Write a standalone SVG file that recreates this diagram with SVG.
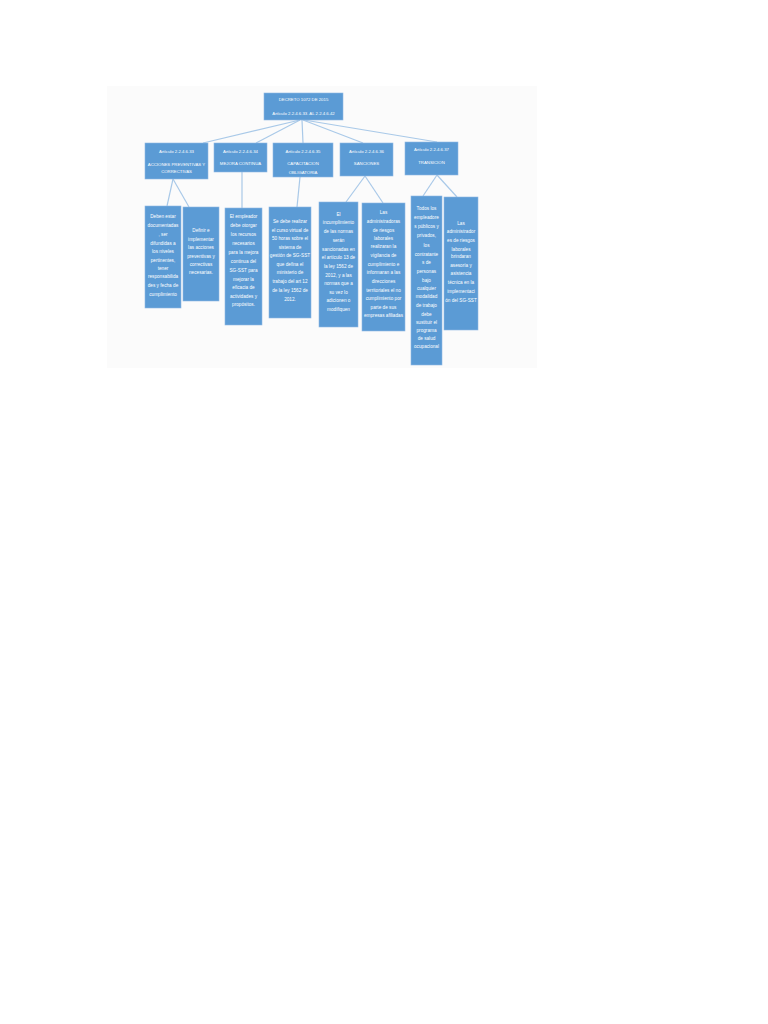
<svg xmlns="http://www.w3.org/2000/svg" width="768" height="1024" viewBox="0 0 768 1024">
<style>
.box{fill:#5b9bd5;stroke:#8fb8e3;stroke-width:0.6}
.t{fill:#ffffff;font-family:"Liberation Sans",Arial,sans-serif;text-anchor:middle}
.h{font-size:4.3px}
.l{font-size:4.7px}
.c{stroke:#a9c9e8;stroke-width:1.2;fill:none}
</style>
<rect x="0" y="0" width="768" height="1024" fill="#ffffff"/>
<rect x="107" y="86" width="430" height="282" fill="#fbfbfb"/>
<g id="connectors">
<line class="c" x1="300" y1="120" x2="203" y2="143"/>
<line class="c" x1="300" y1="120" x2="256" y2="143"/>
<line class="c" x1="302" y1="120" x2="303" y2="143"/>
<line class="c" x1="303" y1="120" x2="363" y2="143"/>
<line class="c" x1="304" y1="120" x2="437" y2="142"/>
<line class="c" x1="173" y1="179" x2="167" y2="206"/>
<line class="c" x1="173" y1="179" x2="189" y2="207"/>
<line class="c" x1="242" y1="172" x2="242" y2="208"/>
<line class="c" x1="300" y1="177" x2="297" y2="207"/>
<line class="c" x1="365" y1="176" x2="346" y2="202"/>
<line class="c" x1="365" y1="176" x2="383" y2="203"/>
<line class="c" x1="437" y1="175" x2="423" y2="196"/>
<line class="c" x1="437" y1="175" x2="457" y2="197"/>
</g>
<g id="root">
<rect class="box" x="264" y="93" width="79" height="27"/>
<text class="t h" x="303.5" y="100.8">DECRETO 1072 DE 2015</text>
<text class="t h" x="303.5" y="114.5">Artículo 2.2.4.6.33. AL 2.2.4.6.42</text>
</g>
<g id="n1">
<rect class="box" x="145" y="143" width="63" height="36"/>
<text class="t h" x="176.5" y="152.5">Artículo 2.2.4.6.33</text>
<text class="t h" x="176.5" y="165.5">ACCIONES PREVENTIVAS Y</text>
<text class="t h" x="176.5" y="172.5">CORRECTIVAS</text>
</g>
<g id="n2">
<rect class="box" x="214" y="143" width="53" height="29"/>
<text class="t h" x="240.5" y="152.5">Artículo 2.2.4.6.34</text>
<text class="t h" x="240.5" y="164.5">MEJORA CONTINUA</text>
</g>
<g id="n3">
<rect class="box" x="273" y="143" width="60" height="34"/>
<text class="t h" x="303" y="152.5">Artículo 2.2.4.6.35</text>
<text class="t h" x="303" y="164.5">CAPACITACION</text>
<text class="t h" x="303" y="173.5">OBLIGATORIA</text>
</g>
<g id="n4">
<rect class="box" x="340" y="143" width="53" height="33"/>
<text class="t h" x="366.5" y="152.5">Artículo 2.2.4.6.36</text>
<text class="t h" x="366.5" y="164.5">SANCIONES</text>
</g>
<g id="n5">
<rect class="box" x="405" y="142" width="53" height="33"/>
<text class="t h" x="431.5" y="150.5">Artículo 2.2.4.6.37</text>
<text class="t h" x="431.5" y="163.5">TRANSICION</text>
</g>
<g id="n1a">
<rect class="box" x="145" y="206" width="36" height="102"/>
<text class="t l" x="163" y="217.7">Deben estar</text>
<text class="t l" x="163" y="227.4">documentadas</text>
<text class="t l" x="163" y="236">, ser</text>
<text class="t l" x="163" y="245">difundidas a</text>
<text class="t l" x="163" y="253.4">los niveles</text>
<text class="t l" x="163" y="261.7">pertinentes,</text>
<text class="t l" x="163" y="270">tener</text>
<text class="t l" x="163" y="278.4">responsabilida</text>
<text class="t l" x="163" y="287.4">des y fecha de</text>
<text class="t l" x="163" y="296">cumplimiento</text>
</g>
<g id="n1b">
<rect class="box" x="183" y="207" width="36" height="94"/>
<text class="t l" x="201" y="232.4">Definir e</text>
<text class="t l" x="201" y="241">implementar</text>
<text class="t l" x="201" y="249.4">las acciones</text>
<text class="t l" x="201" y="257.7">preventivas y</text>
<text class="t l" x="201" y="266">correctivas</text>
<text class="t l" x="201" y="274.4">necesarias.</text>
</g>
<g id="n2a">
<rect class="box" x="225" y="208" width="37" height="117"/>
<text class="t l" x="243.5" y="218.4">El empleador</text>
<text class="t l" x="243.5" y="227.4">debe otorgar</text>
<text class="t l" x="243.5" y="236.4">los recursos</text>
<text class="t l" x="243.5" y="245">necesarios</text>
<text class="t l" x="243.5" y="254.4">para la mejora</text>
<text class="t l" x="243.5" y="263.4">continua del</text>
<text class="t l" x="243.5" y="271.7">SG-SST para</text>
<text class="t l" x="243.5" y="280.7">mejorar la</text>
<text class="t l" x="243.5" y="289">eficacia de</text>
<text class="t l" x="243.5" y="297.7">actividades y</text>
<text class="t l" x="243.5" y="306">propósitos.</text>
</g>
<g id="n3a">
<rect class="box" x="269" y="207" width="42" height="111"/>
<text class="t l" x="290" y="223.4">Se debe realizar</text>
<text class="t l" x="290" y="231.7">el curso virtual de</text>
<text class="t l" x="290" y="240">50 horas sobre el</text>
<text class="t l" x="290" y="249">sistema de</text>
<text class="t l" x="290" y="257.4">gestión de SG-SST</text>
<text class="t l" x="290" y="266">que defina el</text>
<text class="t l" x="290" y="274.4">ministerio de</text>
<text class="t l" x="290" y="283.4">trabajo del art 12</text>
<text class="t l" x="290" y="292.4">de la ley 1562 de</text>
<text class="t l" x="290" y="300.7">2012.</text>
</g>
<g id="n4a">
<rect class="box" x="319" y="202" width="39" height="125"/>
<text class="t l" x="338.5" y="216">El</text>
<text class="t l" x="338.5" y="224.4">incumplimiento</text>
<text class="t l" x="338.5" y="232.7">de las normas</text>
<text class="t l" x="338.5" y="241.7">serán</text>
<text class="t l" x="338.5" y="250.7">sancionadas en</text>
<text class="t l" x="338.5" y="259.4">el artículo 13 de</text>
<text class="t l" x="338.5" y="267.7">la ley 1562 de</text>
<text class="t l" x="338.5" y="276.7">2012, y a las</text>
<text class="t l" x="338.5" y="285">normas que a</text>
<text class="t l" x="338.5" y="293.7">su vez lo</text>
<text class="t l" x="338.5" y="302.4">adicionen o</text>
<text class="t l" x="338.5" y="311">modifiquen</text>
</g>
<g id="n4b">
<rect class="box" x="362" y="203" width="43" height="128"/>
<text class="t l" x="383.5" y="214.4">Las</text>
<text class="t l" x="383.5" y="223.4">administradoras</text>
<text class="t l" x="383.5" y="231.7">de riesgos</text>
<text class="t l" x="383.5" y="240">laborales</text>
<text class="t l" x="383.5" y="248.4">realizaran la</text>
<text class="t l" x="383.5" y="256.7">vigilancia de</text>
<text class="t l" x="383.5" y="265.7">cumplimiento e</text>
<text class="t l" x="383.5" y="274.4">informaran a las</text>
<text class="t l" x="383.5" y="283.4">direcciones</text>
<text class="t l" x="383.5" y="291.7">territoriales el no</text>
<text class="t l" x="383.5" y="300">cumplimiento por</text>
<text class="t l" x="383.5" y="309">parte de sus</text>
<text class="t l" x="383.5" y="317.4">empresas afiliadas</text>
</g>
<g id="n5a">
<rect class="box" x="411" y="196" width="31" height="169"/>
<text class="t l" x="426.5" y="210">Todos los</text>
<text class="t l" x="426.5" y="219">empleadore</text>
<text class="t l" x="426.5" y="228.4">s públicos y</text>
<text class="t l" x="426.5" y="237.4">privados,</text>
<text class="t l" x="426.5" y="246.7">los</text>
<text class="t l" x="426.5" y="255.7">contratante</text>
<text class="t l" x="426.5" y="264.4">s de</text>
<text class="t l" x="426.5" y="273.4">personas</text>
<text class="t l" x="426.5" y="281.7">bajo</text>
<text class="t l" x="426.5" y="290">cualquier</text>
<text class="t l" x="426.5" y="298.4">modalidad</text>
<text class="t l" x="426.5" y="306.7">de trabajo</text>
<text class="t l" x="426.5" y="315.7">debe</text>
<text class="t l" x="426.5" y="324">sustituir el</text>
<text class="t l" x="426.5" y="331.7">programa</text>
<text class="t l" x="426.5" y="340">de salud</text>
<text class="t l" x="426.5" y="348.4">ocupacional</text>
</g>
<g id="n5b">
<rect class="box" x="444" y="197" width="34" height="133"/>
<text class="t l" x="461" y="225">Las</text>
<text class="t l" x="461" y="233.4">administrador</text>
<text class="t l" x="461" y="242.4">es de riesgos</text>
<text class="t l" x="461" y="250.7">laborales</text>
<text class="t l" x="461" y="258.4">brindaran</text>
<text class="t l" x="461" y="266.7">asesoría y</text>
<text class="t l" x="461" y="275">asistencia</text>
<text class="t l" x="461" y="284">técnica en la</text>
<text class="t l" x="461" y="292.7">implementaci</text>
<text class="t l" x="461" y="301.7">ón del SG-SST</text>
</g>
</svg>
